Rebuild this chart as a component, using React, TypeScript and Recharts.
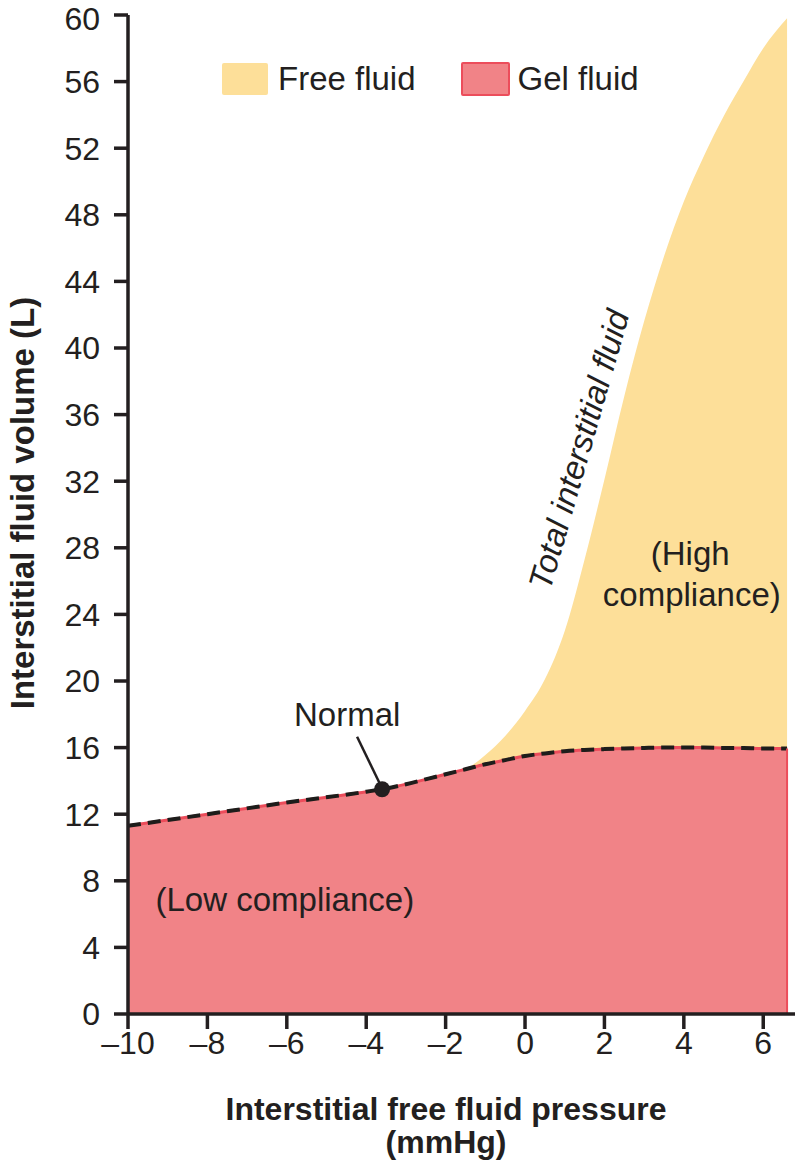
import { ComposedChart, Area, Line, XAxis, YAxis, ReferenceDot, ReferenceLine, Label } from "recharts";

const FONT = "'Liberation Sans', Arial, Helvetica, sans-serif";
const INK = "#231f20";
const YELLOW = "#fddf99";
const RED_FILL = "#f18387";
const RED_LINE = "#ec4d5b";

// interstitial free fluid pressure (mmHg)
const PRESSURE = [-10, -8, -6, -4, -3.6, -2, -1.5, -1, -0.5, 0, 0.5, 1, 1.5, 2, 2.5, 3, 3.5, 4, 4.5, 5, 5.5, 6, 6.6];
// total interstitial fluid volume (L)
const TOTAL_FLUID = [11.3, 12.0, 12.7, 13.35, 13.5, 14.4, 14.7, 15.55, 16.7, 18.2, 20.1, 23.0, 27.3, 32.1, 37.1, 41.6, 45.5, 48.8, 51.5, 53.9, 56.0, 58.0, 59.8];
// gel fluid volume (L)
const GEL_FLUID = [11.3, 12.0, 12.7, 13.35, 13.5, 14.4, 14.7, 15.0, 15.25, 15.5, 15.65, 15.78, 15.86, 15.91, 15.95, 15.98, 16.0, 16.0, 16.0, 15.98, 15.97, 15.95, 15.95];

const X_TICKS = [-10, -8, -6, -4, -2, 0, 2, 4, 6];
const Y_TICKS = [0, 4, 8, 12, 16, 20, 24, 28, 32, 36, 40, 44, 48, 52, 56, 60];

const NORMAL_INDEX = 4;

const LEGEND = [
  { name: "Free fluid", fill: YELLOW, border: YELLOW },
  { name: "Gel fluid", fill: RED_FILL, border: RED_LINE },
];

const data = PRESSURE.map((p, i) => ({ p, total: TOTAL_FLUID[i], gel: GEL_FLUID[i] }));

const fmt = (v: number) => (v < 0 ? `\u2013${Math.abs(v)}` : `${v}`);

const textStyle = { fontFamily: FONT, fontSize: 33, fill: INK };

const XTitle = ({ viewBox }: any) => {
  const cx = 446;
  const y = viewBox.y;
  return (
    <g>
      <text x={cx} y={y + 106} textAnchor="middle" fontFamily={FONT} fontSize={32} fontWeight="bold" fill={INK}>
        Interstitial free fluid pressure
      </text>
      <text x={cx} y={y + 139} textAnchor="middle" fontFamily={FONT} fontSize={32} fontWeight="bold" fill={INK}>
        (mmHg)
      </text>
    </g>
  );
};

const YTitle = () => (
  <text
    x={34}
    y={503}
    transform="rotate(-90, 34, 503)"
    textAnchor="middle"
    fontFamily={FONT}
    fontSize={33}
    fontWeight="bold"
    fill={INK}
  >
    Interstitial fluid volume (L)
  </text>
);

export default function App() {
  const nx = PRESSURE[NORMAL_INDEX];
  const ny = GEL_FLUID[NORMAL_INDEX];
  const lastX = PRESSURE[PRESSURE.length - 1];
  const lastGel = GEL_FLUID[GEL_FLUID.length - 1];

  return (
    <div style={{ position: "absolute", left: 0, top: 0, width: 800, height: 1168, background: "#fff" }}>
      <ComposedChart width={800} height={1168} data={data} margin={{ top: 15, right: 5, bottom: 0, left: 0 }}>
        <XAxis
          dataKey="p"
          type="number"
          domain={[-10, 6.8]}
          ticks={X_TICKS}
          tickFormatter={fmt}
          height={154}
          tickSize={15}
          tickMargin={2}
          axisLine={{ stroke: INK, strokeWidth: 3.5 }}
          tickLine={{ stroke: INK, strokeWidth: 3.5 }}
          tick={{ fontFamily: FONT, fontSize: 32, fill: INK }}
          allowDataOverflow
        >
          <Label content={XTitle} />
        </XAxis>
        <YAxis
          type="number"
          domain={[0, 60]}
          ticks={Y_TICKS}
          width={128}
          tickSize={14}
          tickMargin={14}
          axisLine={{ stroke: INK, strokeWidth: 3.5 }}
          tickLine={{ stroke: INK, strokeWidth: 3.5 }}
          tick={{ fontFamily: FONT, fontSize: 32, fill: INK }}
          allowDataOverflow
        >
          <Label content={YTitle} />
        </YAxis>

        <Area dataKey="total" type="monotone" fill={YELLOW} fillOpacity={1} stroke="none" isAnimationActive={false} />
        <Area dataKey="gel" type="monotone" fill={RED_FILL} fillOpacity={1} stroke={RED_LINE} strokeWidth={3} isAnimationActive={false} />
        <Line dataKey="gel" type="monotone" stroke="#1d1d1b" strokeWidth={4} strokeDasharray="13 7" dot={false} isAnimationActive={false} />

        <ReferenceLine
          segment={[{ x: lastX, y: 0 }, { x: lastX, y: lastGel }]}
          stroke={RED_LINE}
          strokeWidth={2}
        />

        {/* leader line to the normal operating point */}
        <ReferenceLine
          segment={[{ x: nx - 0.63, y: ny + 3.15 }, { x: nx - 0.05, y: ny + 0.3 }]}
          stroke={INK}
          strokeWidth={2.5}
        />
        <ReferenceDot x={nx} y={ny} r={8} fill={INK} stroke="none" />
        <ReferenceDot x={-4.48} y={18.0} r={0} stroke="none" fill="none" label={{ value: "Normal", position: "center", ...textStyle }} />

        <ReferenceDot x={-6.05} y={6.86} r={0} stroke="none" fill="none" label={{ value: "(Low compliance)", position: "center", ...textStyle }} />
        <ReferenceDot x={4.16} y={27.7} r={0} stroke="none" fill="none" label={{ value: "(High", position: "center", ...textStyle }} />
        <ReferenceDot x={4.2} y={25.2} r={0} stroke="none" fill="none" label={{ value: "compliance)", position: "center", ...textStyle }} />
        <ReferenceDot
          x={1.35}
          y={33.9}
          r={0}
          stroke="none"
          fill="none"
          label={{ value: "Total interstitial fluid", position: "center", angle: -74, fontStyle: "italic", ...textStyle }}
        />
      </ComposedChart>

      <div style={{ position: "absolute", left: 222, top: 62, display: "flex", alignItems: "center", fontFamily: FONT, fontSize: 33, color: INK }}>
        {LEGEND.map((item, i) => (
          <div key={item.name} style={{ display: "flex", alignItems: "center", marginRight: i === 0 ? 45 : 0 }}>
            <div
              style={{
                width: i === 0 ? 46 : 45,
                height: i === 0 ? 32 : 30,
                background: item.fill,
                border: i === 0 ? "none" : `2px solid ${item.border}`,
                borderRadius: 2,
                marginRight: i === 0 ? 10 : 8,
              }}
            />
            <span style={{ lineHeight: "34px" }}>{item.name}</span>
          </div>
        ))}
      </div>
    </div>
  );
}
